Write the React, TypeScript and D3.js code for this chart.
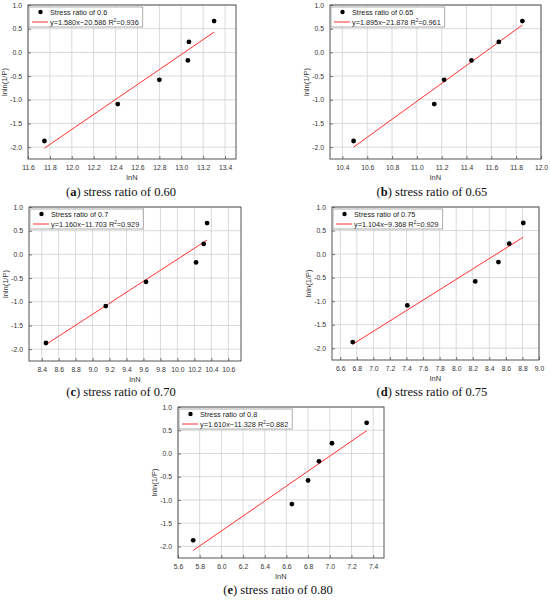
import React, { useEffect, useRef } from "react";
import * as d3 from "d3";

// ---- data ----
const lnlnInvP = [-1.87, -1.09, -0.58, -0.17, 0.22, 0.66];

const lnN_060 = [11.75, 12.42, 12.8, 13.06, 13.07, 13.3];
const lnN_065 = [10.49, 11.14, 11.22, 11.44, 11.66, 11.85];
const lnN_070 = [8.45, 9.155, 9.63, 10.22, 10.31, 10.35];
const lnN_075 = [6.75, 7.41, 8.23, 8.51, 8.64, 8.81];
const lnN_080 = [5.74, 6.65, 6.8, 6.9, 7.02, 7.34];

const fitSlopes = [1.58, 1.895, 1.16, 1.104, 1.61];
const fitIntercepts = [-20.586, -21.878, -11.703, -9.368, -11.328];

const seriesNames = [
  "Stress ratio of 0.6",
  "Stress ratio of 0.65",
  "Stress ratio of 0.7",
  "Stress ratio of 0.75",
  "Stress ratio of 0.8",
];
const fitLabels = [
  ["y=1.580x\u221220.586 R", "=0.936"],
  ["y=1.895x\u221221.878 R", "=0.961"],
  ["y=1.160x\u221211.703  R", "=0.929"],
  ["y=1.104x\u22129.368  R", "=0.929"],
  ["y=1.610x\u221211.328 R", "=0.882"],
];
const captionLetters = ["a", "b", "c", "d", "e"];
const captionTexts = [
  " stress ratio of 0.60",
  " stress ratio of 0.65",
  " stress ratio of 0.70",
  " stress ratio of 0.75",
  " stress ratio of 0.80",
];
const xDomains: [number, number][] = [
  [11.6, 13.5],
  [10.3, 12.0],
  [8.25, 10.75],
  [6.5, 9.0],
  [5.6, 7.5],
];
const xTickStarts = [11.6, 10.4, 8.4, 6.6, 5.6];
const xTickEnds = [13.4, 12.0, 10.6, 9.0, 7.4];
const yDomain: [number, number] = [-2.25, 1.0];
const yTicks = [-2.0, -1.5, -1.0, -0.5, 0.0, 0.5, 1.0];
const xSeries = [lnN_060, lnN_065, lnN_070, lnN_075, lnN_080];

// ---- layout ----
const frames = [
  { l: 28, r: 236, t: 5, b: 159, cx: 121, cy: 196 },
  { l: 330, r: 541, t: 5, b: 159, cx: 432, cy: 196 },
  { l: 29, r: 241, t: 207, b: 361, cx: 121, cy: 396 },
  { l: 332, r: 539, t: 207, b: 360, cx: 432, cy: 396 },
  { l: 178, r: 384, t: 407, b: 558, cx: 278, cy: 594 },
];

const SANS = "'Liberation Sans', Arial, sans-serif";
const SERIF = "'Liberation Serif', 'Times New Roman', serif";
const RED = "#ff3030";

export default function App() {
  const ref = useRef<SVGSVGElement>(null);
  useEffect(() => {
    const svg = d3.select(ref.current);
    svg.selectAll("*").remove();
    frames.forEach((f, i) => {
      const g = svg.append("g");
      const x = d3.scaleLinear().domain(xDomains[i]).range([f.l, f.r]);
      const y = d3.scaleLinear().domain(yDomain).range([f.b, f.t]);
      const xt = d3.range(xTickStarts[i], xTickEnds[i] + 0.001, 0.2);

      // grid
      g.selectAll(".vg")
        .data(xt)
        .join("line")
        .attr("x1", (d) => x(d))
        .attr("x2", (d) => x(d))
        .attr("y1", f.t)
        .attr("y2", f.b)
        .attr("stroke", "#d0d0d0")
        .attr("stroke-width", 0.8);
      g.selectAll(".hg")
        .data(yTicks)
        .join("line")
        .attr("x1", f.l)
        .attr("x2", f.r)
        .attr("y1", (d) => y(d))
        .attr("y2", (d) => y(d))
        .attr("stroke", "#d0d0d0")
        .attr("stroke-width", 0.8);

      // axes
      const xa = g
        .append("g")
        .attr("transform", `translate(0,${f.b})`)
        .call(
          d3
            .axisBottom(x)
            .tickValues(xt)
            .tickSize(-3)
            .tickPadding(6)
            .tickFormat(d3.format(".1f"))
        );
      const ya = g
        .append("g")
        .attr("transform", `translate(${f.l},0)`)
        .call(
          d3
            .axisLeft(y)
            .tickValues(yTicks)
            .tickSize(-3)
            .tickPadding(6)
            .tickFormat((d: any) => d3.format(".1f")(d).replace("\u2212", "-"))
        );
      [xa, ya].forEach((a) => {
        a.select(".domain").remove();
        a.selectAll("line").attr("stroke", "#555").attr("stroke-width", 0.8);
        a.selectAll("text")
          .attr("font-family", SANS)
          .attr("font-size", 6.8)
          .attr("fill", "#333");
      });
      xa.selectAll("text").attr("dy", "0.71em");

      // frame
      g.append("rect")
        .attr("x", f.l)
        .attr("y", f.t)
        .attr("width", f.r - f.l)
        .attr("height", f.b - f.t)
        .attr("fill", "none")
        .attr("stroke", "#555")
        .attr("stroke-width", 1);

      // fit line
      const xs = xSeries[i];
      const x0 = d3.min(xs)!;
      const x1 = d3.max(xs)!;
      const fit = (v: number) => fitSlopes[i] * v + fitIntercepts[i];
      g.append("line")
        .attr("x1", x(x0))
        .attr("y1", y(fit(x0)))
        .attr("x2", x(x1))
        .attr("y2", y(fit(x1)))
        .attr("stroke", RED)
        .attr("stroke-width", 1);

      // points
      g.selectAll(".pt")
        .data(xs.map((v, k) => [v, lnlnInvP[k]]))
        .join("circle")
        .attr("cx", (d) => x(d[0]))
        .attr("cy", (d) => y(d[1]))
        .attr("r", 2.4)
        .attr("fill", "#000");

      // axis titles
      g.append("text")
        .attr("x", (f.l + f.r) / 2)
        .attr("y", f.b + 21)
        .attr("text-anchor", "middle")
        .attr("font-family", SANS)
        .attr("font-size", 7.5)
        .attr("fill", "#333")
        .text("lnN");
      g.append("text")
        .attr(
          "transform",
          `translate(${f.l - 21},${(f.t + f.b) / 2}) rotate(-90)`
        )
        .attr("text-anchor", "middle")
        .attr("font-family", SANS)
        .attr("font-size", 7.5)
        .attr("fill", "#333")
        .text("lnln(1/P)");

      // legend
      const lg = g.append("g");
      const box = lg
        .append("rect")
        .attr("x", f.l + 1)
        .attr("y", f.t + 2)
        .attr("height", 20)
        .attr("fill", "#fff")
        .attr("stroke", "#999")
        .attr("stroke-width", 0.8);
      lg.append("circle")
        .attr("cx", f.l + 12.5)
        .attr("cy", f.t + 7)
        .attr("r", 2.2)
        .attr("fill", "#000");
      const t1 = lg
        .append("text")
        .attr("x", f.l + 22)
        .attr("y", f.t + 9.6)
        .attr("font-family", SANS)
        .attr("font-size", 7.3)
        .attr("fill", "#222")
        .text(seriesNames[i]);
      lg.append("line")
        .attr("x1", f.l + 4)
        .attr("x2", f.l + 20)
        .attr("y1", f.t + 17)
        .attr("y2", f.t + 17)
        .attr("stroke", RED)
        .attr("stroke-width", 1);
      const t2 = lg
        .append("text")
        .attr("x", f.l + 22)
        .attr("y", f.t + 19.6)
        .attr("font-family", SANS)
        .attr("font-size", 7.3)
        .attr("fill", "#222");
      t2.append("tspan").text(fitLabels[i][0]);
      t2.append("tspan").attr("font-size", 4.5).attr("dy", -3).text("2");
      t2.append("tspan").attr("dy", 3).text(fitLabels[i][1]);
      const w = Math.max(
        (t1.node() as SVGTextElement).getComputedTextLength(),
        (t2.node() as SVGTextElement).getComputedTextLength()
      );
      box.attr("width", 21 + w + 4);

      // caption
      const cap = svg
        .append("text")
        .attr("x", f.cx)
        .attr("y", f.cy)
        .attr("text-anchor", "middle")
        .attr("font-family", SERIF)
        .attr("font-size", 12.5)
        .attr("fill", "#111");
      cap.append("tspan").text("(");
      cap
        .append("tspan")
        .attr("font-weight", "bold")
        .text(captionLetters[i]);
      cap.append("tspan").text(")" + captionTexts[i]);
    });
  }, []);
  return (
    <svg
      ref={ref}
      width={550}
      height={600}
      style={{ position: "absolute", left: 0, top: 0, background: "#fff" }}
    />
  );
}
